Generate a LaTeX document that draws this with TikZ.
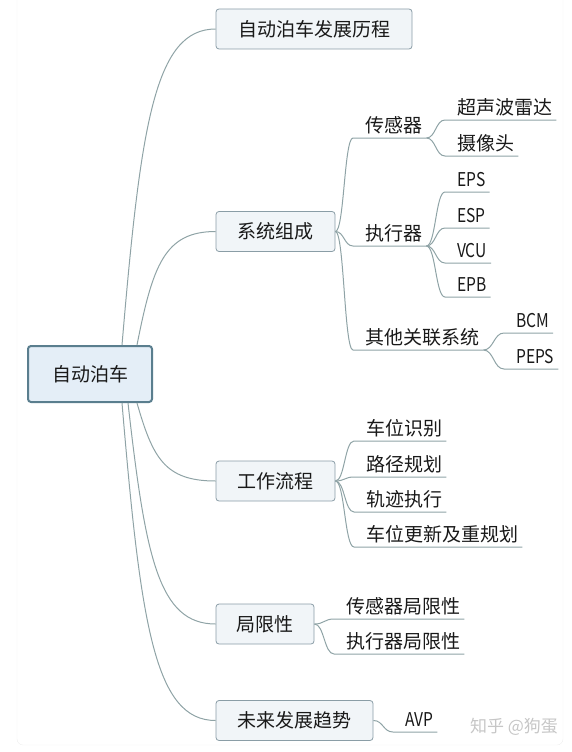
\documentclass[tikz,border=0pt]{standalone}
\usepackage{fontspec}
\newfontfamily\cjkfont{Noto Sans CJK SC}
\newfontfamily\latfont[FakeStretch=0.82]{Noto Sans CJK SC}
\usetikzlibrary{calc}
\definecolor{linkgrey}{HTML}{8FA3A6}
\definecolor{boxline}{HTML}{8A9DA6}
\definecolor{boxfill}{HTML}{F1F5F8}
\definecolor{rootline}{HTML}{5A7E8E}
\definecolor{rootfill}{HTML}{E4EEF7}
\definecolor{marktext}{HTML}{C6C6C6}

\begin{document}
\begin{tikzpicture}[
x = 1pt, y = -1pt,
every node/.style = {
	font = \cjkfont\fontsize{19}{22}\selectfont,
	text = black!90
},
root/.style = {
	draw = rootline,
	fill = rootfill,
	line width = 2pt,
	rounded corners = 3pt,
	minimum width = 124pt,
	minimum height = 56pt
},
topic/.style = {
	draw = boxline,
	fill = boxfill,
	line width = 0.8pt,
	rounded corners = 3pt,
	minimum height = 40pt,
	inner xsep = 0pt
},
leaf/.style = {
	anchor = south west,
	inner sep = 0pt,
	text depth = 5pt
},
code/.style = {
	leaf,
	font = \latfont\fontsize{19}{22}\selectfont
},
link/.style = {
	draw = linkgrey,
	line width = 1pt,
	to path = {let \p1 = (\tikztostart), \p2 = (\tikztotarget) in
		.. controls ({\x1+0.5*(\x2-\x1)},\y1) and ({\x1+0.5*(\x2-\x1)},\y2) .. (\tikztotarget)}
},
rootlink/.style = {
	draw = linkgrey,
	line width = 1pt,
	to path = {let \p1 = (\tikztostart), \p2 = (\tikztotarget) in
		.. controls ({\x1+0.2*(\x2-\x1)},{\y1+0.7*(\y2-\y1)}) and ({\x1+0.35*(\x2-\x1)},\y2) .. (\tikztotarget)}
}
]
\useasboundingbox (0,0) rectangle (572,752);
\draw[black!7, rounded corners=6pt] (17,-6) rectangle (563,745);

% main topics
\node [root] (park) at (90,374) {自动泊车};
\node [topic, minimum width=196pt] (hist) at (314,29) {自动泊车发展历程};
\node [topic, minimum width=119pt] (sys) at (275.5,231.5) {系统组成};
\node [topic, minimum width=119pt] (flow) at (275.5,481) {工作流程};
\node [topic, minimum width=98pt] (lim) at (265,624) {局限性};
\node [topic, minimum width=157pt] (fut) at (294.5,720.5) {未来发展趋势};

% sub topics
\node [leaf] (sensor) at (365,138) {传感器};
\node [leaf] (sonar) at (457,120) {超声波雷达};
\node [leaf] (camera) at (457,156) {摄像头};
\node [leaf] (actuator) at (365,246) {执行器};
\node [code] (eps) at (457,192) {EPS};
\node [code] (esp) at (457,228) {ESP};
\node [code] (vcu) at (457,263) {VCU};
\node [code] (epb) at (457,297) {EPB};
\node [leaf] (other) at (365,350) {其他关联系统};
\node [code] (bcm) at (516,333) {BCM};
\node [code] (peps) at (516,369) {PEPS};
\node [leaf] (spot) at (366,441) {车位识别};
\node [leaf] (route) at (366,477) {路径规划};
\node [leaf] (track) at (366,512) {轨迹执行};
\node [leaf] (update) at (366,547) {车位更新及重规划};
\node [leaf] (slim) at (346,619) {传感器局限性};
\node [leaf] (alim) at (346,654) {执行器局限性};
\node [code] (avp) at (405,732) {AVP};

\node [font=\cjkfont\fontsize{17}{20}\selectfont, text=marktext] (mark) at (514,727) {知乎 @狗蛋};

% from the root
\draw[rootlink] ([xshift=-31pt]park.north east) to (hist.west);
\draw[rootlink] ([xshift=-16pt]park.north east) to (sys.west);
\draw[rootlink] ([xshift=-16pt]park.south east) to (flow.west);
\draw[rootlink] ([xshift=-25pt]park.south east) to (lim.west);
\draw[rootlink] ([xshift=-31pt]park.south east) to (fut.west);

% system
\draw[link] (sys.east) to ([xshift=-12pt]sensor.south west) -- ([xshift=4pt]sensor.south east);
\draw[link] (sys.east) to ([xshift=-12pt]actuator.south west) -- ([xshift=4pt]actuator.south east);
\draw[link] (sys.east) to ([xshift=-12pt]other.south west) -- ([xshift=4pt]other.south east);
\draw[link] ([xshift=4pt]sensor.south east) to ([xshift=-12pt]sonar.south west) -- ([xshift=4pt]sonar.south east);
\draw[link] ([xshift=4pt]sensor.south east) to ([xshift=-12pt]camera.south west) -- ([xshift=4pt]camera.south east);
\draw[link] ([xshift=4pt]actuator.south east) to ([xshift=-12pt]eps.south west) -- ([xshift=4pt]eps.south east);
\draw[link] ([xshift=4pt]actuator.south east) to ([xshift=-12pt]esp.south west) -- ([xshift=4pt]esp.south east);
\draw[link] ([xshift=4pt]actuator.south east) to ([xshift=-12pt]vcu.south west) -- ([xshift=4pt]vcu.south east);
\draw[link] ([xshift=4pt]actuator.south east) to ([xshift=-12pt]epb.south west) -- ([xshift=4pt]epb.south east);
\draw[link] ([xshift=4pt]other.south east) to ([xshift=-12pt]bcm.south west) -- ([xshift=4pt]bcm.south east);
\draw[link] ([xshift=4pt]other.south east) to ([xshift=-12pt]peps.south west) -- ([xshift=4pt]peps.south east);

% work flow
\draw[link] (flow.east) to ([xshift=-12pt]spot.south west) -- ([xshift=4pt]spot.south east);
\draw[link] (flow.east) to ([xshift=-12pt]route.south west) -- ([xshift=4pt]route.south east);
\draw[link] (flow.east) to ([xshift=-12pt]track.south west) -- ([xshift=4pt]track.south east);
\draw[link] (flow.east) to ([xshift=-12pt]update.south west) -- ([xshift=4pt]update.south east);

% limits and future
\draw[link] (lim.east) to ([xshift=-12pt]slim.south west) -- ([xshift=4pt]slim.south east);
\draw[link] (lim.east) to ([xshift=-12pt]alim.south west) -- ([xshift=4pt]alim.south east);
\draw[link] (fut.east) to ([xshift=-12pt]avp.south west) -- ([xshift=4pt]avp.south east);

\end{tikzpicture}
\end{document}
